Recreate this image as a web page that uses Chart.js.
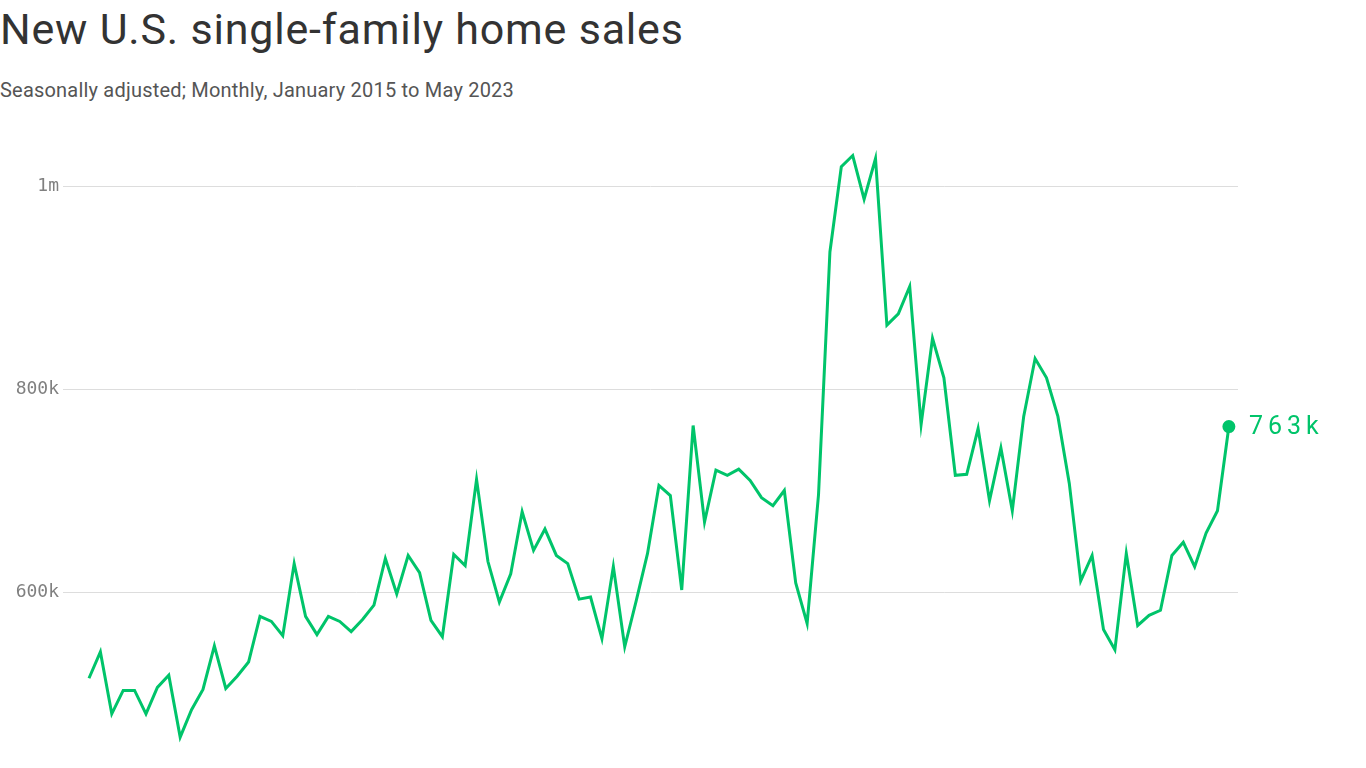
<!DOCTYPE html>
<html>
<head>
<meta charset="utf-8">
<script src="https://cdn.jsdelivr.net/npm/chart.js@4"></script>
<style>
    body { margin: 0; background: #fff; }
    .wrap { position: relative; width: 1366px; height: 768px; overflow: hidden; }
    h1 {
        position: absolute; left: 0; top: 4px; margin: 0;
        font-family: Roboto, sans-serif; font-weight: 400; font-size: 43px;
        color: #333; letter-spacing: 0.8px;
    }
    .sub {
        position: absolute; left: 0; top: 78px; margin: 0;
        font-family: Roboto, sans-serif; font-size: 20px; color: #555;
        letter-spacing: 0.2px;
    }
    canvas { position: absolute; left: 0; top: 0; }
</style>
</head>
<body>
<div class="wrap">
    <h1>New U.S. single-family home sales</h1>
    <div class="sub">Seasonally adjusted; Monthly, January 2015 to May 2023</div>
    <canvas id="salesChart" width="1366" height="768"></canvas>
</div>
<script>
// --- Data (thousands, seasonally adjusted annual rate) ---
const years = [2015, 2016, 2017, 2018, 2019, 2020, 2021, 2022, 2023];
const monthNames = ['Jan', 'Feb', 'Mar', 'Apr', 'May', 'Jun', 'Jul', 'Aug', 'Sep', 'Oct', 'Nov', 'Dec'];
const sales = [
    515, 541, 480, 503, 503, 480, 506, 518, 457, 484, 504, 547,   // 2015
    505, 517, 531, 576, 571, 557, 628, 576, 558, 576, 571, 561,   // 2016
    573, 587, 633, 598, 636, 619, 572, 556, 637, 626, 711, 630,   // 2017
    590, 618, 679, 641, 662, 636, 628, 593, 595, 554, 625, 546,   // 2018
    591, 638, 705, 695, 602, 764, 669, 720, 715, 721, 710, 693,   // 2019
    685, 700, 609, 569, 696, 935, 1019, 1030, 987, 1027, 863, 874, // 2020
    901, 765, 850, 811, 715, 716, 761, 690, 742, 680, 773, 830,   // 2021
    811, 773, 707, 611, 636, 563, 543, 638, 567, 577, 582, 636,   // 2022
    649, 625, 658, 680, 763                                       // 2023
];
const yTicks = [600000, 800000, 1000000];

const labels = [];
years.forEach(y => monthNames.forEach(m => labels.push(m + ' ' + y)));
labels.length = sales.length;

const green = '#00c46a';
const lastIdx = sales.length - 1;

// label next to the last point
const endLabel = {
    id: 'endLabel',
    afterDatasetsDraw(chart) {
        const pt = chart.getDatasetMeta(0).data[lastIdx];
        const ctx = chart.ctx;
        ctx.save();
        ctx.font = '400 25px Roboto, sans-serif';
        ctx.letterSpacing = '5px';
        ctx.fillStyle = green;
        ctx.textBaseline = 'middle';
        ctx.fillText(sales[lastIdx] + 'k', pt.x + 20, pt.y + 1);
        ctx.restore();
    }
};

const ctx = document.getElementById('salesChart').getContext('2d');
new Chart(ctx, {
    type: 'line',
    data: {
        labels: labels,
        datasets: [{
            label: 'New home sales',
            data: sales.map((v, i) => ({ x: i, y: v * 1000 })),
            borderColor: green,
            backgroundColor: green,
            borderWidth: 3,
            tension: 0,
            pointRadius: sales.map((v, i) => i === lastIdx ? 5 : 0),
            pointHoverRadius: 0,
            clip: false
        }]
    },
    plugins: [endLabel],
    options: {
        responsive: false,
        animation: false,
        layout: { padding: { top: 145.4, right: 128, bottom: 23.75, left: 0 } },
        scales: {
            x: {
                type: 'linear',
                display: false,
                min: -2.28,
                max: 100.8
            },
            y: {
                min: 450000,
                max: 1040000,
                afterFit: scale => { scale.width = 63; },
                afterBuildTicks: scale => { scale.ticks = yTicks.map(v => ({ value: v })); },
                grid: { color: '#dddddd', lineWidth: 1, drawTicks: false },
                border: { display: false },
                ticks: {
                    padding: 4,
                    color: '#808080',
                    font: { family: '"DejaVu Sans Mono", monospace', size: 18 },
                    callback: v => v >= 1000000 ? '1m' : (v / 1000) + 'k'
                }
            }
        },
        plugins: {
            legend: { display: false },
            tooltip: { enabled: false }
        }
    }
});
</script>
</body>
</html>
